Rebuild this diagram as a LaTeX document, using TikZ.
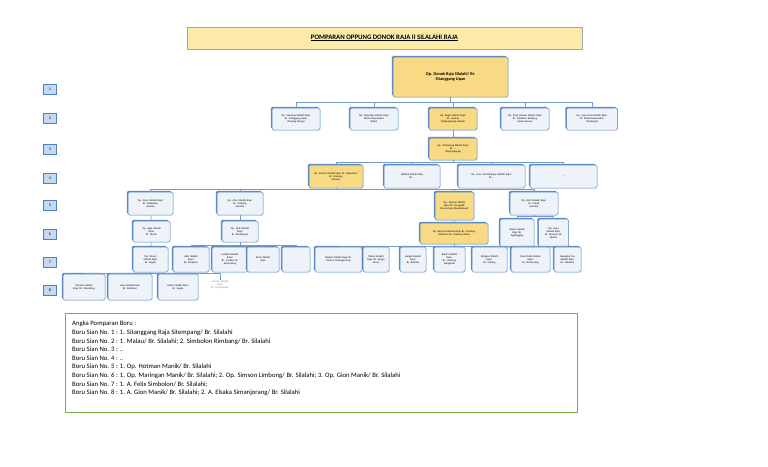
\documentclass[tikz,border=0pt]{standalone}
\usepackage{fontspec}
\setmainfont{Carlito}
\usetikzlibrary{shadows}
\definecolor{bl}{HTML}{4F81BD}
\definecolor{lf}{HTML}{EEF3FA}
\definecolor{gd}{HTML}{F8DA84}
\definecolor{tt}{HTML}{FCEBA8}
\definecolor{nm}{HTML}{C6D9F1}
\definecolor{gr}{HTML}{77B041}
\begin{document}
\begin{tikzpicture}[x=1pt,y=-1pt,
 box/.style={draw=bl,line width=0.5pt,rounded corners=1.5pt,fill=lf,align=center,inner sep=0.5pt,
  font=\fontsize{2.6}{3}\selectfont,drop shadow={shadow xshift=-1.2pt,shadow yshift=1.2pt,fill=bl,opacity=0.9}},
 gold/.style={box,fill=gd},
 nobox/.style={align=center,inner sep=0.5pt,font=\fontsize{2.6}{3}\selectfont,text=gray},
 num/.style={draw=bl,fill=nm,minimum width=13pt,minimum height=10pt,inner sep=0pt,font=\fontsize{4}{5}\selectfont},
 ln/.style={draw=bl!80,line width=0.6pt}]
\useasboundingbox (0,0) rectangle (768,466);
\fill[white] (0,0) rectangle (768,466);
\newcommand{\bx}[7]{\node[#6,minimum width=#4pt,minimum height=#5pt,text width=#4pt-2pt] (#1) at (#2,#3) {#7};}
% title
\node[draw=gray!70,fill=tt,minimum width=395pt,minimum height=22pt,font=\bfseries\fontsize{6.8}{8}\selectfont] (title) at (384.5,38) {\underline{POMPARAN OPPUNG DONOK RAJA II SILALAHI RAJA}};
% numbers
\foreach \n/\y in {1/89,2/118,3/149,4/178,5/205,6/234,7/262,8/290} \node[num] (n\n) at (50,\y) {\n};
% root
\bx{root}{450.5}{77}{115}{40}{gold}{\fontsize{4.3}{5.5}\selectfont\bfseries Op. Donok Raja Silalahi/ Br.\\Sitanggang Lipan}
% row2
\bx{a1}{296}{119}{48}{22}{box}{Op. Sointang Silalahi Raja/\\Br. Sitanggang Lipan\\(Tanjung Bunga)}
\bx{a2}{374}{119}{48}{22}{box}{Op. Daja Raja Silalahi Raja/\\Sihole Rumasudan\\(Balia)}
\bx{a3}{453}{119}{48}{22}{gold}{Op. Bagot Silalahi Raja/\\Br. Hudosk\\(Tanjungbunga Harian)}
\bx{a4}{525}{119}{48}{22}{box}{Op. Tuan Maham Silalahi Raja/\\Br. Simbolon Rimbang\\(Hutanamora)}
\bx{a5}{592}{119}{51}{22}{box}{Op. Jujur Hata Silalahi Raja/\\Br. Sihole Rumasudan\\(Tandunga)}
% row3
\bx{b1}{453}{149}{48}{22}{gold}{Op. Tambatang Silalahi Raja/\\Br. ...\\(Tanjungbunga)}
% row4
\bx{c1}{336}{176.5}{54}{23}{gold}{Op. Ramen Silalahi Raja/ Br. Habeahan/\\Br. Limbong\\(Harian)}
\bx{c2}{412}{176.5}{56}{23}{box}{Habbok Silalahi Raja\\Br....}
\bx{c3}{491.5}{176.5}{67}{23}{box}{Op. Guru Tinambangan Silalahi Raja/\\Br....}
\bx{c4}{563.5}{176.5}{67}{23}{box}{....}
% row5
\bx{d1}{150.5}{203.5}{45}{23}{box}{Op. Sutra Silalahi Raja/\\Br. Habeahan\\(Harian)}
\bx{d2}{240}{203.5}{46}{23}{box}{Op. Aher Silalahi Raja/\\Br. Limbong\\(Harian)}
\bx{d3}{454.5}{206}{39}{28}{gold}{Op. Dosmar Silalahi\\Raja/ Br. Sinaga/Br.\\Situmorang (Kipantabuan)}
\bx{d4}{534}{203.5}{48}{23}{box}{Op. Birin Silalahi Raja/\\Br. Manik\\(Harian)}
% row6
\bx{e1}{151.5}{231.5}{37}{21}{box}{Op. Jalga Silalahi\\Raja/\\Br. Manik}
\bx{e2}{240}{231.5}{36}{21}{box}{Op. Ulak Silalahi\\Raja/\\Br. Pandiangan}
\bx{e3}{454}{233.5}{68}{21}{gold}{Op. Bernard Silalahi Raja/ Br. Limbong\\Dabarsaki Br. Limbong Silodo}
\bx{e4}{517}{233}{34}{28}{box}{Simion Silalahi\\Raja/ Br.\\Sigalingging}
\bx{e5}{553.5}{233}{30}{28}{box}{Op. Haya\\Silalahi Raja/\\Br. Samosir/ Br.\\Sijabat}
% row7
\bx{f1}{150.5}{259.5}{35}{25}{box}{Op. Ilhanri\\Silalahi Raja/\\Br. Sagala}
\bx{f2}{191}{259.5}{36}{25}{box}{Aher Silalahi\\Raja/\\Br. Panjaitan}
\bx{f3}{230}{259.5}{36}{25}{box}{Lambok Silalahi\\Raja/\\Br. Gurdes/ Br.\\Situmorang}
\bx{f4}{263}{259.5}{32}{25}{box}{Sintra Silalahi\\Raja}
\bx{f5}{296}{259.5}{28}{25}{box}{...}
\bx{f6}{338.5}{259.5}{47}{25}{box}{Bosmar Silalahi Raja/ Br.\\Sianturi Simangunsong}
\bx{f7}{376}{259.5}{26}{25}{box}{Tiakon Silalahi\\Raja/ Br. Sinaga\\Simsa}
\bx{f8}{413}{259.5}{26}{25}{box}{Hengki Silalahi\\Raja/\\Br. Butbara}
\bx{f9}{449.5}{259.5}{31}{25}{box}{Bonita Silalahi\\Raja/\\Br. Limbong\\Sibagariak}
\bx{f10}{489.5}{259.5}{35}{25}{box}{Mingkus Silalahi\\Raja/\\Br. Ginting}
\bx{f11}{530.5}{259.5}{39}{25}{box}{David Felik Silalahi\\Raja/\\Br. Situmorang}
\bx{f12}{567.5}{259.5}{27}{25}{box}{Hamgihot Tua\\Silalahi Raja/\\Br. Nababan}
% row8
\bx{g1}{84}{287}{42}{26}{box}{Marinus Silalahi\\Raja/ Br. Sihombing}
\bx{g2}{130}{287}{44}{26}{box}{Leser Silalahi Raja/\\Br. Simbolon}
\bx{g3}{178}{287}{40}{26}{box}{Ander Silalahi Raja/\\Br. Sagala}
\node[nobox,text width=34pt] (g4) at (220,285) {Jeremia Silalahi\\Raja/\\Br. Simanjuntak};
% connectors
\foreach \c in {a1,a2,a3,a4,a5} \draw[ln] (root.south) -- ++(0,5) -| (\c.north);
\draw[ln] (a3) -- (b1);
\foreach \c in {c1,c2,c3,c4} \draw[ln] (b1.south) -- ++(0,2.5) -| (\c.north);
\foreach \c in {d1,d2,d3,d4} \draw[ln] (c1.south) -- ++(0,1.5) -| (\c.north);
\draw[ln] (d1) -- (e1); \draw[ln] (d2) -- (e2); \draw[ln] (d3) -- (e3);
\draw[ln] (e1) -- (f1);
\foreach \c in {e4,e5} \draw[ln] (d4.south) -- ++(0,1.5) -| (\c.north);
\foreach \c in {f2,f3,f4,f5} \draw[ln] (e2.south) -- ++(0,3.5) -| (\c.north);
\foreach \c in {f6,f7,f8,f9,f10,f11,f12} \draw[ln] (e3.south) -- ++(0,2.5) -| (\c.north);
\foreach \c in {g1,g2,g3,g4} \draw[ln] (f1.south) -- ++(0,1.5) -| (\c.north);
% text box
\node[draw=gr,line width=0.7pt,minimum width=512pt,minimum height=99pt,anchor=north west,inner sep=0pt] (tb) at (65,313) {};
\node[anchor=north west,align=left,font=\fontsize{6.7}{8.6}\selectfont,inner sep=0pt] (tx) at (72,321) {Angka Pomparan Boru :\\
Boru Sian No. 1 : 1. Sitanggang Raja Sitempang/ Br. Silalahi\\
Boru Sian No. 2 : 1. Malau/ Br. Silalahi; 2. Simbolon Rimbang/ Br. Silalahi\\
Boru Sian No. 3 : ..\\
Boru Sian No. 4 : ..\\
Boru Sian No. 5 : 1. Op. Hotman Manik/ Br. Silalahi\\
Boru Sian No. 6 : 1. Op. Maringan Manik/ Br. Silalahi; 2. Op. Simson Limbong/ Br. Silalahi; 3. Op. Gion Manik/ Br. Silalahi\\
Boru Sian No. 7 : 1. A. Felix Simbolon/ Br. Silalahi;\\
Boru Sian No. 8 : 1. A. Gion Manik/ Br. Silalahi; 2. A. Elsaka Simanjorang/ Br. Silalahi};
\end{tikzpicture}
\end{document}
